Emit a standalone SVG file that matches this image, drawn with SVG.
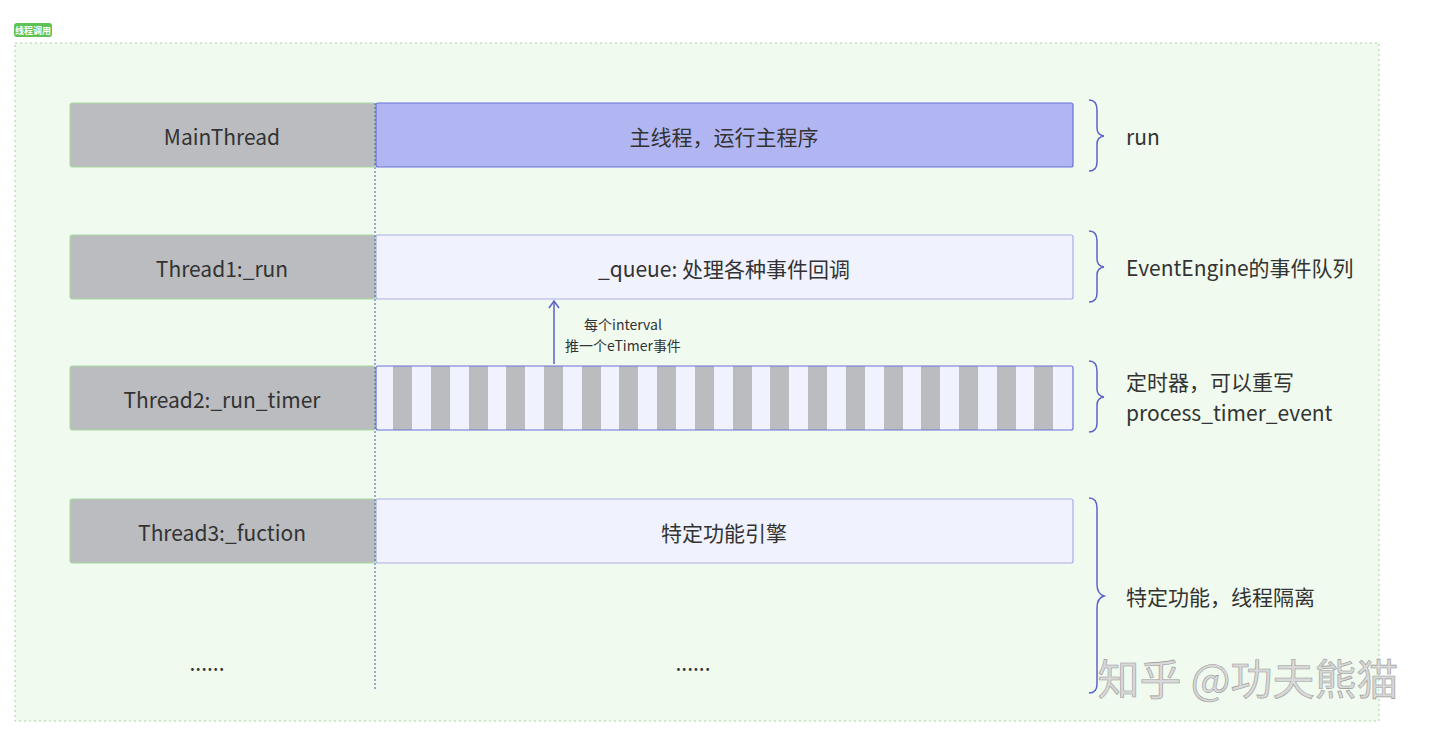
<svg xmlns="http://www.w3.org/2000/svg" width="1440" height="737" viewBox="0 0 1440 737">
<style>
text{font-family:"Noto Sans CJK SC","Noto Sans",sans-serif;fill:#333;}
.lbl{fill:#babcbf;stroke:#a6dba0;stroke-width:1}
.bar{fill:#f0f2fd;stroke:#a9aee8;stroke-width:1.2}
.t{font-size:21px;text-anchor:middle;dominant-baseline:central}
.r{font-size:21px;dominant-baseline:central}
.brace{fill:none;stroke:#5a63c8;stroke-width:1.5}
</style>
<rect width="1440" height="737" fill="#fff"/>
<rect x="15" y="43" width="1364" height="678" fill="#f0faee" stroke="#9fd89a" stroke-dasharray="2,3"/>
<rect x="14" y="23" width="38" height="14" rx="3" fill="#5cc253"/>
<text x="33" y="30" font-size="9" text-anchor="middle" dominant-baseline="central" style="fill:#fff;font-weight:bold">线程调用</text>
<g id="main"><rect class="lbl" x="70" y="103" width="305" height="64" rx="2"/><text class="t" x="222" y="136">MainThread</text>
<rect x="376" y="103" width="697" height="64" rx="2" fill="#b1b6f2" stroke="#6a72d6" stroke-width="1.2"/><text class="t" x="724" y="136">主线程，运行主程序</text></g>
<g id="t1"><rect class="lbl" x="70" y="235" width="305" height="64" rx="2"/><text class="t" x="222" y="268">Thread1:_run</text>
<rect class="bar" x="376" y="235" width="697" height="64" rx="2"/><text class="t" x="724" y="268">_queue: 处理各种事件回调</text></g>
<g id="t2"><rect class="lbl" x="70" y="366" width="305" height="64" rx="2"/><text class="t" x="222" y="399">Thread2:_run_timer</text>
<rect x="376" y="366" width="697" height="64" rx="2" fill="#f0f2fd"/>
<g fill="#babcbf">
<rect x="393" y="366" width="19" height="64"/><rect x="431" y="366" width="19" height="64"/><rect x="469" y="366" width="19" height="64"/><rect x="506" y="366" width="19" height="64"/><rect x="544" y="366" width="19" height="64"/><rect x="582" y="366" width="19" height="64"/><rect x="619" y="366" width="19" height="64"/><rect x="657" y="366" width="19" height="64"/><rect x="695" y="366" width="19" height="64"/><rect x="733" y="366" width="19" height="64"/><rect x="770" y="366" width="19" height="64"/><rect x="808" y="366" width="19" height="64"/><rect x="846" y="366" width="19" height="64"/><rect x="884" y="366" width="19" height="64"/><rect x="921" y="366" width="19" height="64"/><rect x="959" y="366" width="19" height="64"/><rect x="997" y="366" width="19" height="64"/><rect x="1034" y="366" width="19" height="64"/>
</g>
<rect x="376" y="366" width="697" height="64" rx="2" fill="none" stroke="#6a72d6" stroke-width="1.2"/></g>
<g id="t3"><rect class="lbl" x="70" y="499" width="305" height="64" rx="2"/><text class="t" x="222" y="532">Thread3:_fuction</text>
<rect class="bar" x="376" y="499" width="697" height="64" rx="2"/><text class="t" x="724" y="532">特定功能引擎</text></g>
<text class="t" x="207" y="662">......</text>
<text class="t" x="693" y="662">......</text>
<g id="connectors">
<line x1="375" y1="103" x2="375" y2="690" stroke="#4a55b5" stroke-width="1" stroke-dasharray="2,2"/>
<line x1="554" y1="364" x2="554" y2="302" stroke="#5a63c8" stroke-width="1.5"/>
<path d="M549,308 L554,301 L559,308" fill="none" stroke="#5a63c8" stroke-width="1.5"/>
</g>
<text x="623" y="324" font-size="14" text-anchor="middle" dominant-baseline="central">每个interval</text>
<text x="623" y="345" font-size="14" text-anchor="middle" dominant-baseline="central">推一个eTimer事件</text>
<g id="braces">
<path class="brace" d="M1089,100 Q1097,100 1097,110 L1097,128 Q1097,135 1104,136 Q1097,137 1097,144 L1097,162 Q1097,171 1089,171"/>
<path class="brace" d="M1089,231 Q1097,231 1097,241 L1097,259 Q1097,266 1104,267 Q1097,268 1097,275 L1097,293 Q1097,302 1089,302"/>
<path class="brace" d="M1089,361 Q1097,361 1097,371 L1097,389 Q1097,396 1104,397 Q1097,398 1097,405 L1097,423 Q1097,432 1089,432"/>
<path class="brace" d="M1089,498 Q1097,498 1097,508 L1097,584 Q1097,594 1104,596 Q1097,598 1097,608 L1097,684 Q1097,693 1089,693"/>
</g>
<text class="r" x="1126" y="136">run</text>
<text class="r" x="1126" y="267">EventEngine的事件队列</text>
<text class="r" x="1126" y="381">定时器，可以重写</text>
<text class="r" x="1126" y="412">process_timer_event</text>
<text class="r" x="1126" y="596">特定功能，线程隔离</text>
<text x="1248" y="695" font-size="42" text-anchor="middle" style="fill:#d8d8d8;stroke:#9a9a9a;stroke-width:0.6">知乎 @功夫熊猫</text>
</svg>
